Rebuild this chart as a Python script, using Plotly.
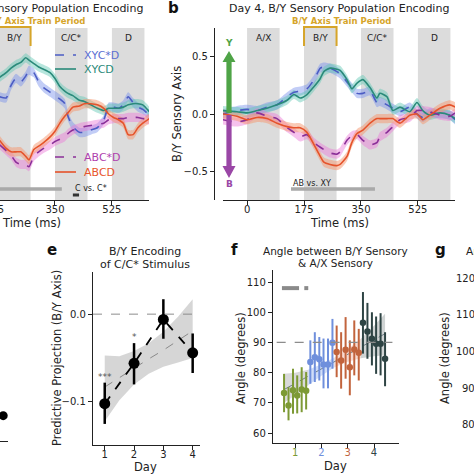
import plotly.graph_objects as go

W = H = 474
FONT = "DejaVu Sans"

# ---------------- data ----------------
band_labels = ["A/X", "B/Y", "C/C*", "D"]
band_start = [0, 175, 350, 525]
band_end = [100, 275, 450, 625]

# panel a (Day 1, cropped on the left)
a_time = [180, 200, 215, 230, 245, 260, 270, 285, 300, 315, 335, 350, 365, 380, 390,
          405, 425, 440, 460, 480, 500, 515, 530, 545, 560, 575, 590, 605, 620, 640]
a_xycd = [0.32, 0.36, 0.40, 0.43, 0.45, 0.49, 0.47, 0.44, 0.41, 0.39, 0.36, 0.31, 0.24, 0.20, 0.18,
          0.16, 0.12, 0.11, 0.08, 0.05, 0.03, 0.05, 0.05, 0.05, 0.06, 0.08, 0.09, 0.09, 0.08, 0.02]
a_xycsd = [0.15, 0.14, 0.25, 0.31, 0.28, 0.33, 0.38, 0.36, 0.28, 0.23, 0.19, 0.16, 0.13, 0.09, -0.02,
           -0.11, -0.16, -0.16, -0.14, -0.12, -0.05, 0.06, 0.06, 0.05, 0.08, 0.15, 0.10, 0.06, 0.04, -0.01]
a_abcd = [-0.23, -0.30, -0.33, -0.33, -0.33, -0.37, -0.40, -0.31, -0.28, -0.25, -0.20, -0.15, -0.08, -0.02, 0.01,
          0.06, 0.07, 0.09, 0.09, 0.08, 0.05, 0.00, -0.03, -0.05, -0.08, -0.18, -0.18, -0.12, -0.08, -0.04]
a_abcsd = [-0.27, -0.32, -0.36, -0.42, -0.44, -0.44, -0.46, -0.37, -0.33, -0.30, -0.27, -0.24, -0.22, -0.20, -0.17,
           -0.14, -0.12, -0.11, -0.10, -0.09, -0.08, -0.05, -0.04, -0.04, -0.04, -0.03, -0.03, -0.03, -0.04, -0.05]

# panel b (Day 4)
b_time = [-75, -31, 0, 31, 61, 92, 123, 144, 163, 184, 206, 225, 236, 255, 276, 286, 307,
          322, 338, 356, 378, 399, 408, 430, 448, 470, 500, 522, 540, 562, 593, 623, 640]
b_xycd = [0.03, 0.02, 0.01, 0.03, 0.05, 0.08, 0.12, 0.17, 0.14, 0.17, 0.24, 0.31, 0.37, 0.40, 0.39, 0.38, 0.30,
          0.22, 0.27, 0.30, 0.23, 0.14, 0.18, 0.15, 0.03, 0.06, 0.02, 0.10, 0.03, -0.01, 0.01, -0.01, -0.04]
b_xycsd = [0.00, 0.03, 0.04, 0.03, 0.06, 0.08, 0.15, 0.19, 0.20, 0.22, 0.30, 0.40, 0.41, 0.40, 0.37, 0.35, 0.28,
           0.23, 0.18, 0.18, 0.20, 0.10, 0.11, 0.08, 0.05, 0.02, 0.06, 0.00, -0.03, 0.01, 0.00, -0.01, -0.05]
b_abcd = [0.00, -0.02, -0.05, -0.03, -0.04, -0.08, -0.11, -0.12, -0.12, -0.16, -0.27, -0.37, -0.42, -0.44, -0.45, -0.44, -0.37,
          -0.25, -0.17, -0.14, -0.08, -0.04, -0.04, -0.04, -0.04, -0.08, -0.01, 0.00, -0.05, -0.01, 0.05, 0.08, 0.06]
b_abcsd = [-0.05, -0.07, -0.05, 0.01, -0.02, -0.04, -0.12, -0.16, -0.20, -0.18, -0.25, -0.29, -0.31, -0.34, -0.35, -0.33, -0.23,
           -0.19, -0.18, -0.23, -0.27, -0.25, -0.20, -0.16, -0.11, -0.05, -0.03, 0.03, 0.03, 0.02, -0.01, -0.02, 0.01]

sem_xycd = 0.04
sem_xycsd = 0.04
sem_abcd = 0.04
sem_abcsd = 0.04

# significance bars (ms)
a_sig_ab_xy = [100, 371]
a_sig_c = [405, 424]
b_sig_ab_xy = [135, 393]

# panel e
e_day = [1, 2, 3, 4]
e_mean = [-0.102, -0.056, -0.006, -0.044]
e_hi = [-0.078, -0.033, 0.017, -0.022]
e_lo = [-0.125, -0.080, -0.028, -0.067]
e_fit_day = [1, 1.5, 2, 2.5, 3, 3.5, 4]
e_fit = [-0.083, -0.072, -0.062, -0.051, -0.041, -0.030, -0.019]
e_ci_hi = [-0.047, -0.048, -0.042, -0.033, -0.020, -0.003, 0.017]
e_ci_lo = [-0.122, -0.098, -0.080, -0.068, -0.060, -0.055, -0.050]
e_stars = ["***", "*"]
e_star_day = [1, 2]
e_star_val = [-0.072, -0.026]

# panel f
f_days = [1, 2, 3, 4]
f_day_colors = ["#7d9a35", "#6f8fdc", "#c2643d", "#2e4444"]
f_x = [[0.58, 0.75, 0.92, 1.08, 1.25, 1.42],
       [1.58, 1.75, 1.92, 2.08, 2.25, 2.42],
       [2.58, 2.75, 2.92, 3.08, 3.25, 3.42],
       [3.58, 3.75, 3.92, 4.08, 4.25, 4.42]]
f_val = [[73.3, 69.1, 74.2, 72.4, 74.4, 74.0],
         [83.5, 85.1, 84.4, 82.7, 82.7, 89.9],
         [86.8, 84.0, 87.6, 81.8, 87.7, 86.6],
         [96.5, 93.6, 91.2, 89.6, 89.6, 84.6]]
f_hi = [[79.6, 75.2, 81.3, 79.1, 81.8, 80.2],
        [90.7, 93.4, 91.8, 91.3, 91.3, 97.8],
        [95.6, 93.4, 98.4, 90.7, 97.3, 94.5],
        [106.7, 103.1, 100.0, 98.6, 99.7, 93.4]]
f_lo = [[66.9, 64.2, 66.4, 66.5, 66.9, 67.8],
        [76.3, 76.9, 77.4, 74.8, 74.8, 81.3],
        [78.5, 74.7, 78.0, 72.5, 79.1, 77.4],
        [86.3, 84.6, 82.4, 79.6, 79.1, 75.5]]
f_fit_x = [0.58, 1.0, 1.5, 2.0, 2.5, 3.0, 3.5, 4.0, 4.42]
f_fit = [74.4, 76.4, 78.8, 81.2, 83.6, 86.0, 88.4, 90.8, 92.9]
f_ci_hi = [79.6, 80.0, 81.0, 82.8, 85.0, 87.8, 91.2, 95.5, 99.5]
f_ci_lo = [70.0, 72.5, 75.8, 79.0, 81.8, 83.6, 84.8, 85.4, 85.8]
f_band_colors = ["rgba(170,170,170,0.45)", "rgba(150,180,240,0.45)",
                 "rgba(240,170,150,0.45)", "rgba(150,160,160,0.45)"]
f_sig = [[0.5, 1.15], [1.35, 1.5]]

# panel d (cropped fragment)
d_day = [4]
d_val = [0.15]

# panel g (cropped fragment) tick labels
g_ticks = [120, 110, 100, 90, 80]

# ---------------- geometry ----------------
P = {
    'a': dict(px=(0, 149), py=(28, 200), xr=(181, 639), yr=(-0.75, 0.75)),
    'b': dict(px=(223, 455), py=(28, 200), xr=(-74, 639), yr=(-0.75, 0.75)),
    'e': dict(px=(93, 200), py=(272, 445), xr=(0.6, 4.25), yr=(-0.149, 0.048)),
    'f': dict(px=(273, 399), py=(270, 443), xr=(0.16, 4.95), yr=(56.7, 114)),
    'd': dict(px=(0, 8), py=(272, 441), xr=(3.8, 4.3), yr=(0, 1)),
    'g': dict(px=(480, 560), py=(262, 440), yr=(75.9, 124.4)),
}


def PX(p):
    return p / W


def PY(p):
    return 1 - p / H


def dxp(k, v):
    g = P[k]
    return g['px'][0] + (v - g['xr'][0]) / (g['xr'][1] - g['xr'][0]) * (g['px'][1] - g['px'][0])


def dyp(k, v):
    g = P[k]
    return g['py'][1] - (v - g['yr'][0]) / (g['yr'][1] - g['yr'][0]) * (g['py'][1] - g['py'][0])


fig = go.Figure()

AX = {'a': ('x', 'y'), 'b': ('x2', 'y2'), 'e': ('x3', 'y3'), 'f': ('x4', 'y4'), 'd': ('x5', 'y5')}

series_style = [
    # (name, a data, b data, sem, line color, fill color, dash)
    ("XYC*D", a_xycsd, b_xycsd, sem_xycsd, "#4b5cc4", "rgba(120,145,235,0.45)", "dash"),
    ("XYCD", a_xycd, b_xycd, sem_xycd, "#2a8a7a", "rgba(95,200,180,0.45)", "solid"),
    ("ABC*D", a_abcsd, b_abcsd, sem_abcsd, "#8a2f98", "rgba(235,120,215,0.45)", "dash"),
    ("ABCD", a_abcd, b_abcd, sem_abcd, "#e5532b", "rgba(245,150,110,0.5)", "solid"),
]

for panel, tvals in (('a', a_time), ('b', b_time)):
    xa, ya = AX[panel]
    for name, ad, bd, sem, lc, fc, dash in series_style:
        vals = ad if panel == 'a' else bd
        up = [v + sem for v in vals]
        lo = [v - sem for v in vals]
        fig.add_trace(go.Scatter(x=tvals + tvals[::-1], y=up + lo[::-1], fill='toself',
                                 fillcolor=fc, line=dict(width=0, shape='spline', smoothing=0.6),
                                 mode='lines', xaxis=xa, yaxis=ya, hoverinfo='skip'))
    for name, ad, bd, sem, lc, fc, dash in series_style:
        vals = ad if panel == 'a' else bd
        fig.add_trace(go.Scatter(x=tvals, y=vals, mode='lines',
                                 line=dict(color=lc, width=1.6, dash=dash, shape='spline', smoothing=0.6),
                                 xaxis=xa, yaxis=ya, hoverinfo='skip'))

# panel d fragment
fig.add_trace(go.Scatter(x=d_day, y=d_val, mode='markers', marker=dict(color='black', size=9),
                         xaxis='x5', yaxis='y5'))

# panel e
fig.add_trace(go.Scatter(x=e_fit_day + e_fit_day[::-1], y=e_ci_hi + e_ci_lo[::-1], fill='toself',
                         fillcolor='rgba(200,200,200,0.75)', line=dict(width=0), mode='lines',
                         xaxis='x3', yaxis='y3'))
fig.add_trace(go.Scatter(x=e_fit_day, y=e_fit, mode='lines', line=dict(color='#8a8a8a', width=1, dash='dash'),
                         xaxis='x3', yaxis='y3'))
fig.add_trace(go.Scatter(x=e_day, y=e_mean, mode='lines+markers',
                         line=dict(color='black', width=1.8, dash='dash'),
                         marker=dict(color='black', size=11),
                         error_y=dict(type='data', symmetric=False,
                                      array=[h - m for h, m in zip(e_hi, e_mean)],
                                      arrayminus=[m - l for m, l in zip(e_mean, e_lo)],
                                      color='black', thickness=2.5, width=0),
                         xaxis='x3', yaxis='y3'))

# panel f
seg_bounds = [(0, 2), (2, 4), (4, 6), (6, 8)]
for (i0, i1), col in zip(seg_bounds, f_band_colors):
    xs = f_fit_x[i0:i1 + 1]
    fig.add_trace(go.Scatter(x=xs + xs[::-1], y=f_ci_hi[i0:i1 + 1] + f_ci_lo[i0:i1 + 1][::-1],
                             fill='toself', fillcolor=col, line=dict(width=0), mode='lines',
                             xaxis='x4', yaxis='y4'))
fig.add_trace(go.Scatter(x=f_fit_x, y=f_fit, mode='lines', line=dict(color='#6f7f86', width=1, dash='dash'),
                         xaxis='x4', yaxis='y4'))
for xs, vs, his, los, col in zip(f_x, f_val, f_hi, f_lo, f_day_colors):
    fig.add_trace(go.Scatter(x=xs, y=vs, mode='markers', marker=dict(color=col, size=6.5),
                             error_y=dict(type='data', symmetric=False,
                                          array=[h - v for h, v in zip(his, vs)],
                                          arrayminus=[v - l for v, l in zip(vs, los)],
                                          color=col, thickness=2, width=0),
                             xaxis='x4', yaxis='y4'))

# ---------------- shapes ----------------
shapes = []
for panel in ('a', 'b'):
    xa, ya = AX[panel]
    for s, e in zip(band_start, band_end):
        shapes.append(dict(type='rect', xref=xa, yref=ya + ' domain', x0=s, x1=e, y0=0, y1=1,
                           fillcolor='#dcdcdc', line=dict(width=0), layer='below'))

GOLD = '#d6a52a'
# train-period brackets (B/Y period)
for panel in ('a', 'b'):
    xa, _ = AX[panel]
    s, e = band_start[1], band_end[1]
    shapes.append(dict(type='path', xref=xa, yref='paper',
                       path=f"M {s},{PY(46)} L {s},{PY(27)} L {e},{PY(27)} L {e},{PY(46)}",
                       line=dict(color=GOLD, width=2)))

# significance bars
shapes.append(dict(type='line', xref='x', yref='paper', x0=a_sig_ab_xy[0], x1=a_sig_ab_xy[1],
                   y0=PY(189), y1=PY(189), line=dict(color='#a9a9a9', width=3.5)))
shapes.append(dict(type='line', xref='x', yref='paper', x0=a_sig_c[0], x1=a_sig_c[1],
                   y0=PY(195), y1=PY(195), line=dict(color='#333333', width=3)))
shapes.append(dict(type='line', xref='x2', yref='paper', x0=b_sig_ab_xy[0], x1=b_sig_ab_xy[1],
                   y0=PY(189), y1=PY(189), line=dict(color='#a9a9a9', width=3.5)))

# legend samples in panel a
leg = [("XYC*D", 55, "#4b5cc4", "dash", "#5b6fd2"), ("XYCD", 69, "#2a8a7a", "solid", "#2a8a7a"),
       ("ABC*D", 157, "#8a2f98", "dash", "#b03fae"), ("ABCD", 172, "#e5532b", "solid", "#e8552c")]
for name, yy, lc, dash, tc in leg:
    shapes.append(dict(type='line', xref='paper', yref='paper', x0=PX(55), x1=PX(76), y0=PY(yy), y1=PY(yy),
                       line=dict(color=lc, width=1.6, dash=dash)))

# arrows in panel b
cx = 229
shapes.append(dict(type='path', xref='paper', yref='paper', fillcolor='#4fa447', line=dict(width=0),
                   path=(f"M {PX(cx-2.6)},{PY(113)} L {PX(cx-2.6)},{PY(62)} L {PX(cx-6.5)},{PY(62)} "
                         f"L {PX(cx)},{PY(51)} L {PX(cx+6.5)},{PY(62)} L {PX(cx+2.6)},{PY(62)} "
                         f"L {PX(cx+2.6)},{PY(113)} Z")))
shapes.append(dict(type='path', xref='paper', yref='paper', fillcolor='#9a47a6', line=dict(width=0),
                   path=(f"M {PX(cx-2.6)},{PY(115)} L {PX(cx-2.6)},{PY(166)} L {PX(cx-6.5)},{PY(166)} "
                         f"L {PX(cx)},{PY(178)} L {PX(cx+6.5)},{PY(166)} L {PX(cx+2.6)},{PY(166)} "
                         f"L {PX(cx+2.6)},{PY(115)} Z")))

# panel e zero line
shapes.append(dict(type='line', xref='x3 domain', yref='y3', x0=0, x1=1, y0=0, y1=0,
                   line=dict(color='#8c8c8c', width=1, dash='dash')))
# panel f 90-degree line and significance bars
shapes.append(dict(type='line', xref='x4', yref='y4', x0=0.3, x1=4.7, y0=90, y1=90,
                   line=dict(color='#8c8c8c', width=1.2, dash='dash')))
for s0, s1 in f_sig:
    shapes.append(dict(type='line', xref='x4', yref='y4', x0=s0, x1=s1, y0=108, y1=108,
                       line=dict(color='#8a8a8a', width=4)))

# ---------------- annotations ----------------
ann = []


def T(x, y, text, size=10, color='#222', bold=False, xanchor='center', yanchor='middle', angle=0):
    if bold:
        text = '<b>' + text + '</b>'
    ann.append(dict(x=PX(x), y=PY(y), xref='paper', yref='paper', text=text, showarrow=False,
                    xanchor=xanchor, yanchor=yanchor, textangle=angle,
                    font=dict(family=FONT, size=size, color=color)))


# titles
T(33, 8, "Day 1, B/Y Sensory Population Encoding", 11)
T(339, 8, "Day 4, B/Y Sensory Population Encoding", 11)
T(173, 8, "b", 15, '#111', bold=True)
# train period labels
for panel in ('a', 'b'):
    T(dxp(panel, band_end[1]) + 5, 21, "B/Y Axis Train Period", 8.5, GOLD, bold=True)
# band labels
for panel in ('a', 'b'):
    for lab, s, e in zip(band_labels, band_start, band_end):
        T(dxp(panel, (s + e) / 2), 38, lab, 9)
# legend text
for name, yy, lc, dash, tc in leg:
    T(82, yy, name, 11, tc, xanchor='left')
# significance labels
T(dxp('a', a_sig_c[0]), 188, "C vs. C*", 8, xanchor='left')
T(dxp('b', b_sig_ab_xy[0]), 183, "AB vs. XY", 8, xanchor='left')
# arrow labels
T(cx, 43, "Y", 9, '#4fa447', bold=True)
T(cx, 184, "B", 9, '#9a47a6', bold=True)
# axis titles top row
T(32, 223, "Time (ms)", 11.5)
T(339, 223, "Time (ms)", 11.5)
T(177, 114, "B/Y Sensory Axis", 11.5, angle=-90)
T(5.5, 210, "175", 10, xanchor='right')

# bottom row
T(52, 250, "e", 15, '#111', bold=True)
T(145, 252, "B/Y Encoding", 11)
T(145, 264, "of C/C* Stimulus", 11)
T(57, 358, "Predictive Projection (B/Y Axis)", 11.5, angle=-90)
T(145, 467, "Day", 11.5)
for s, dday, val in zip(e_stars, e_star_day, e_star_val):
    T(dxp('e', dday), dyp('e', val), s, 9, '#555')

T(234, 250, "f", 15, '#111', bold=True)
T(335, 251, "Angle between B/Y Sensory", 10.5)
T(335, 263, "& A/X Sensory", 10.5)
T(241, 358, "Angle (degrees)", 11.5, angle=-90)
T(335, 466, "Day", 11.5)

T(440, 250, "g", 15, '#111', bold=True)
T(464, 251, "Angle between", 10.5, xanchor='left')
T(445, 358, "Angle (degrees)", 11.5, angle=-90)
for tv in g_ticks:
    T(477, dyp('g', tv), str(tv), 10, xanchor='right')

# ---------------- axes ----------------
axline = dict(showline=True, linecolor='#222', linewidth=1.3, ticks='outside', ticklen=4,
              tickwidth=1.2, tickcolor='#222', showgrid=False, zeroline=False,
              tickfont=dict(family=FONT, size=10, color='#222'))
xline = dict(axline, ticklabelstandoff=-4)


def dom(k):
    g = P[k]
    return [PX(g['px'][0]), PX(g['px'][1])], [PY(g['py'][1]), PY(g['py'][0])]


xa_d, ya_d = dom('a')
xb_d, yb_d = dom('b')
xe_d, ye_d = dom('e')
xf_d, yf_d = dom('f')
xd_d, yd_d = dom('d')

fig.update_layout(
    width=W, height=H, margin=dict(l=0, r=0, t=0, b=0),
    paper_bgcolor='white', plot_bgcolor='white', showlegend=False,
    font=dict(family=FONT, size=10, color='#222'),
    xaxis=dict(domain=xa_d, range=P['a']['xr'], anchor='y', tickvals=[350, 525], **xline),
    yaxis=dict(domain=ya_d, range=P['a']['yr'], anchor='x', visible=False),
    xaxis2=dict(domain=xb_d, range=P['b']['xr'], anchor='y2', tickvals=[0, 175, 350, 525], **xline),
    yaxis2=dict(domain=yb_d, range=P['b']['yr'], anchor='free', position=PX(214),
                tickvals=[-0.5, 0.0, 0.5], tickformat='.1f', **axline),
    xaxis3=dict(domain=xe_d, range=P['e']['xr'], anchor='y3', tickvals=[1, 2, 3, 4], **xline),
    yaxis3=dict(domain=ye_d, range=P['e']['yr'], anchor='x3', tickvals=[-0.1, 0.0], tickformat='.1f', **axline),
    xaxis4=dict(domain=xf_d, range=P['f']['xr'], anchor='y4', tickvals=f_days,
                ticktext=[f'<span style="color:{c}">{d}</span>' for d, c in zip(f_days, f_day_colors)], **xline),
    yaxis4=dict(domain=yf_d, range=P['f']['yr'], anchor='x4', tickvals=[60, 70, 80, 90, 100, 110], **axline),
    xaxis5=dict(domain=xd_d, range=P['d']['xr'], anchor='y5', showline=True, linecolor='#222', linewidth=1.3,
                showticklabels=False, ticks='', showgrid=False, zeroline=False),
    yaxis5=dict(domain=yd_d, range=P['d']['yr'], anchor='x5', visible=False),
    shapes=shapes, annotations=ann,
)

fig.write_html("out.html")
